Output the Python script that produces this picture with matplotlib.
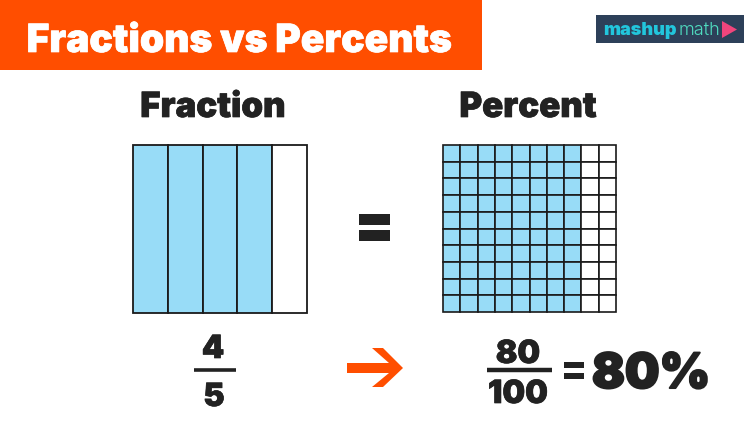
import matplotlib
matplotlib.use("Agg")
import matplotlib.pyplot as plt
import matplotlib.patheffects as pe
from matplotlib.patches import Rectangle, Polygon

title = "Fractions vs Percents"
left_heading = "Fraction"
right_heading = "Percent"
frac_parts = 5
frac_filled = 4
pct_cols = 10
pct_rows = 10
pct_filled_cols = 8
frac_top = "4"
frac_bottom = "5"
pct_top = "80"
pct_bottom = "100"
pct_result = "80%"

ORANGE = "#ff4e00"
BLUE = "#98dcf7"
DARK = "#222222"
FONT = "Inter"


def draw_grid(ax, x0, y0, w, h, cols, rows, filled_cols, lw):
    cw = w / cols
    rh = h / rows
    for c in range(cols):
        for r in range(rows):
            color = BLUE if c < filled_cols else "white"
            ax.add_patch(Rectangle((x0 + c * cw, y0 + r * rh), cw, rh, facecolor=color,
                                   edgecolor="#1a1a1a", linewidth=lw))


def label(ax, x, y, s, size, color=DARK, weight=900, stroke=0.5):
    # y is the text baseline, the stroke fattens the glyphs a bit
    t = ax.text(x, y, s, fontsize=size, color=color, fontweight=weight, family=FONT,
                ha="center", va="baseline")
    t.set_path_effects([pe.withStroke(linewidth=stroke, foreground=color)])


fig = plt.figure(figsize=(7.5, 4.22), dpi=100)
ax = fig.add_axes([0, 0, 1, 1])
ax.set_xlim(0, 750)
ax.set_ylim(422, 0)
ax.axis("off")

# banner
ax.add_patch(Rectangle((0, 0), 482, 70, facecolor=ORANGE, edgecolor="none"))
label(ax, 239, 52, title, 28, color="white")

# logo
ax.add_patch(Rectangle((596, 15), 148, 28, facecolor="#2d4059", edgecolor="none"))
ax.text(603, 35, "mashup", fontsize=13, color="#22c6dc", fontweight=900, family=FONT, va="baseline")
ax.text(678, 35, "math", fontsize=13, color="#4fdcc0", fontweight=300, family=FONT, va="baseline")
ax.add_patch(Polygon([(722, 21), (722, 38), (737, 29.5)], facecolor="#f0457c", edgecolor="none"))

label(ax, 213, 117, left_heading, 25)
label(ax, 528, 117, right_heading, 25)

draw_grid(ax, 133, 145, 174, 168, frac_parts, 1, frac_filled, 1.3)
draw_grid(ax, 443, 145, 173, 167, pct_cols, pct_rows, pct_filled_cols, 1.2)

# big equals sign
ax.add_patch(Rectangle((359, 214), 31, 11, facecolor=DARK, edgecolor="none"))
ax.add_patch(Rectangle((359, 230), 31, 11, facecolor=DARK, edgecolor="none"))

# left fraction
label(ax, 213, 358, frac_top, 23)
ax.plot([194, 236], [369.5, 369.5], color=DARK, lw=2.6, solid_capstyle="butt")
label(ax, 214, 406, frac_bottom, 23)

# arrow
ax.add_patch(Polygon([(347, 363), (389, 363), (372, 348), (383, 348), (403, 368),
                      (383, 387), (372, 387), (389, 373), (347, 373)],
                     facecolor=ORANGE, edgecolor="none"))

# right fraction
label(ax, 518, 363, pct_top, 23)
ax.plot([487, 552], [370, 370], color=DARK, lw=3.2, solid_capstyle="butt")
label(ax, 518, 403, pct_bottom, 23)
ax.add_patch(Rectangle((564, 362), 20, 6, facecolor=DARK, edgecolor="none"))
ax.add_patch(Rectangle((564, 373), 20, 6, facecolor=DARK, edgecolor="none"))
label(ax, 651, 388, pct_result, 35, stroke=1.5)

fig.savefig("out.png", dpi=100)
